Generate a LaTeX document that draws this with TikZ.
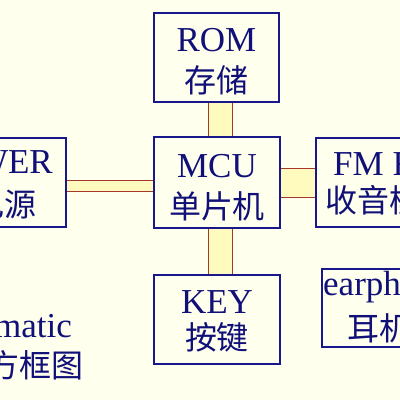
\documentclass[tikz,border=0pt]{standalone}
\usepackage{fontspec}
\setmainfont{Liberation Serif}
\newfontfamily\cjk{Noto Sans CJK SC}
\usetikzlibrary{backgrounds}
\definecolor{bgc}{RGB}{255,255,238}
\definecolor{navy}{RGB}{16,16,120}
\definecolor{boxline}{RGB}{24,24,140}
\definecolor{connfill}{RGB}{255,250,190}
\definecolor{connline}{RGB}{165,55,45}
\tikzset{
  blk/.style={draw=boxline, line width=1.6pt, fill=bgc, inner sep=0pt},
  lat/.style={text=navy, font=\fontsize{35}{35}\selectfont, inner sep=0pt},
  han/.style={text=navy, font=\cjk\fontsize{32}{32}\selectfont, inner sep=0pt},
  conn/.style={draw=connline, line width=0.8pt, fill=connfill}
}
\begin{document}
\begin{tikzpicture}[x=1pt,y=-1pt]
\useasboundingbox (0,0) rectangle (400,400);
% boxes
\node[blk, minimum width=125pt, minimum height=89pt] (rom) at (216.5,57.5) {};
\node[blk, minimum width=126pt, minimum height=91pt] (mcu) at (217,182.5) {};
\node[blk, minimum width=126pt, minimum height=89pt] (key) at (217,319.5) {};
\node[blk, minimum width=132pt, minimum height=89pt] (pow) at (0,182.5) {};
\node[blk, minimum width=176pt, minimum height=89pt] (fm) at (404,182.5) {};
\node[blk, minimum width=130pt, minimum height=78pt] (ear) at (387,308) {};
% background and connectors
\begin{scope}[on background layer]
\fill[bgc] (0,0) rectangle (400,400);
\draw[conn] ([xshift=-8.5pt]rom.south) rectangle ([xshift=15.5pt]mcu.north);
\draw[conn] ([xshift=-9pt]mcu.south) rectangle ([xshift=15pt]key.north);
\draw[conn] ([yshift=2.5pt]pow.east) rectangle ([yshift=-8.5pt]mcu.west);
\draw[conn] ([yshift=14.5pt]mcu.east) rectangle ([yshift=-14.5pt]fm.west);
\draw[conn] ([xshift=3pt]fm.south) rectangle ([xshift=13pt]ear.north);
\end{scope}
% labels
\node[lat, anchor=base] (romA) at ([yshift=6.5pt]rom.center) {ROM};
\node[han] (romB) at ([yshift=-22.5pt]rom.center) {存储};
\node[lat, anchor=base] (mcuA) at ([yshift=5.5pt]mcu.center) {MCU};
\node[han] (mcuB) at ([yshift=-24pt]mcu.center) {单片机};
\node[lat, anchor=base] (keyA) at ([yshift=6.5pt]key.center) {KEY};
\node[han] (keyB) at ([yshift=-18pt]key.center) {按键};
\node[lat, anchor=base east] (powA) at (53,173) {POWER};
\node[han, anchor=east] (powB) at (37,204) {电源};
\node[lat, anchor=base west] (fmA) at (333,175) {FM Radio};
\node[han, anchor=west] (fmB) at (325,200) {收音模块};
\node[lat, anchor=base west] (earA) at (323,295) {earphone};
\node[han, anchor=west] (earB) at (347,328) {耳机};
\node[lat, anchor=base east] (tA) at (72,337) {Schematic};
\node[han, anchor=east] (tB) at (84,365) {原理方框图};
\end{tikzpicture}
\end{document}
